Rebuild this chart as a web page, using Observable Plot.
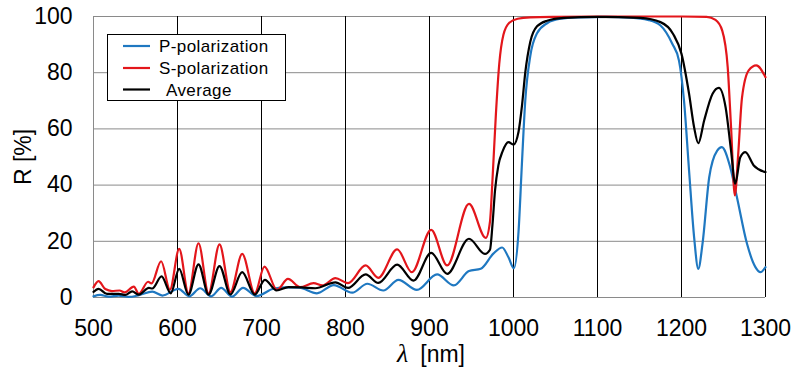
<!DOCTYPE html>
<html>
<head>
<meta charset="utf-8">
<script src="https://cdn.jsdelivr.net/npm/d3@7"></script>
<script src="https://cdn.jsdelivr.net/npm/@observablehq/plot@0.6"></script>
<style>
  html, body { margin: 0; padding: 0; background: white; }
</style>
</head>
<body>
<div id="chart"></div>
<script>
// ---- data ----
const seriesNames = ["P-polarization", "S-polarization", "Average"];
const seriesColors = ["#1f78c1", "#e3161b", "#000000"];

const lamP = [500, 508, 518, 530, 542, 554, 570, 582, 601, 614, 627, 640, 652, 665, 678, 694, 715, 730, 745, 766, 786, 808, 826, 845, 863, 885, 909, 929, 947, 961, 976, 986.5, 994, 1000.5, 1006, 1010, 1014, 1020, 1028, 1040, 1056, 1080, 1110, 1140, 1160, 1175, 1189, 1197, 1203, 1209, 1215, 1220, 1225, 1233, 1242.5, 1248, 1258, 1266, 1278, 1288, 1294, 1300];
const valP = [0.4, 0.9, 0.3, 0.7, 0.2, 0.8, 2.1, 0.7, 3.1, 0.4, 3.3, 0.4, 3.4, 0.3, 3.4, 0.5, 3.2, 3.6, 3.5, 1.5, 4.4, 1.7, 4.9, 2.5, 6.3, 2.7, 8.2, 4.3, 9.4, 10.2, 15.6, 17.8, 14.3, 10.4, 23.5, 47.5, 70, 86, 94, 97.6, 99.2, 99.7, 99.9, 99.6, 98.8, 96.8, 90.3, 84.3, 70, 45.2, 21.5, 10.2, 19.1, 42.8, 52.3, 53.5, 46.4, 35.7, 19.1, 10.8, 9.0, 10.8];

const lamS = [500, 506, 514, 522, 531, 537, 548, 554, 565, 569, 580.5, 591, 602, 613, 625, 637, 650, 663, 677, 692, 703.5, 718.5, 731.5, 746, 762, 772.5, 788, 803, 824, 839, 861.5, 879, 902, 921, 947, 967, 972, 975, 979, 983, 988, 995, 1005, 1020, 1050, 1100, 1200, 1230, 1240.5, 1248.5, 1255, 1259, 1263.5, 1267.5, 1272, 1280, 1289, 1300];
const valS = [3.6, 5.8, 3.0, 2.3, 2.5, 1.8, 3.9, 1.3, 5.6, 5.0, 12.9, 2.8, 17.3, 1.5, 19.3, 1.5, 18.9, 1.9, 15.5, 1.5, 11.0, 2.7, 6.6, 3.7, 5.1, 4.3, 6.9, 5.1, 11.4, 7.0, 17.1, 9.0, 24.1, 11.4, 33.3, 21.2, 27, 42, 65, 83, 93.5, 97.8, 99.2, 99.7, 99.9, 100, 100, 99.9, 98.8, 95, 82, 60.6, 36.3, 51, 71, 80.8, 82.6, 78.4];

const lamA = [500, 506, 516, 530, 538, 546, 554, 566, 570, 581, 592, 602, 613, 625, 637, 650, 663, 677, 692, 704, 718, 732, 748, 764, 788, 803, 824, 839, 861.5, 881, 902, 921, 947, 966, 972, 975, 978, 982, 987, 994, 1000, 1006, 1010, 1014, 1020, 1028, 1040, 1060, 1100, 1151, 1175, 1190, 1200, 1209, 1215, 1220, 1227, 1237, 1244.5, 1252.5, 1259, 1264, 1270, 1276, 1286, 1300];
const valA = [2.0, 3.1, 1.3, 1.3, 0.9, 2.2, 1.0, 3.4, 3.2, 7.5, 1.5, 10.2, 1.0, 11.8, 1.0, 11.2, 1.1, 9.0, 1.0, 6.3, 2.5, 3.7, 3.6, 3.3, 5.4, 3.4, 8.2, 5.2, 11.7, 6.0, 15.9, 8.4, 20.9, 15.5, 17, 26, 38, 47, 52, 55.3, 54.4, 59, 68, 80, 91, 96.5, 98.5, 99.5, 99.9, 99.5, 98, 93.8, 86.7, 72.5, 60.6, 54.9, 63, 72.5, 74.6, 67.7, 52.3, 40.5, 49.9, 51.7, 47, 44.6];

const xTicks = [500, 600, 700, 800, 900, 1000, 1100, 1200, 1300];
const yTicks = [0, 20, 40, 60, 80, 100];
const xGridBlack = [600, 700, 800, 900, 1000, 1100, 1200, 1300];
const yGridGray = [0, 20, 40, 60, 80, 100];
const xLabel = "[nm]";
const xLabelSymbol = "λ";
const yLabel = "R [%]";

// ---- build tables ----
const toRows = (lam, val, name) => lam.map((l, i) => ({lambda: l, R: val[i], series: name}));
const rowsP = toRows(lamP, valP, seriesNames[0]);
const rowsS = toRows(lamS, valS, seriesNames[1]);
const rowsA = toRows(lamA, valA, seriesNames[2]);

const chart = Plot.plot({
  width: 805,
  height: 386,
  marginLeft: 93,
  marginRight: 40,
  marginTop: 16,
  marginBottom: 89,
  style: {fontFamily: "Liberation Sans, Arial, sans-serif", fontSize: "23px", background: "white", color: "black"},
  x: {domain: [500, 1300]},
  y: {domain: [0, 100]},
  marks: [
    Plot.ruleY(yGridGray, {stroke: "#8a8a8a", strokeWidth: 1}),
    Plot.ruleX([500], {stroke: "#8a8a8a", strokeWidth: 1}),
    Plot.ruleX(xGridBlack, {stroke: "#000", strokeWidth: 1}),
    Plot.lineY(rowsP, {x: "lambda", y: "R", stroke: seriesColors[0], strokeWidth: 2.2, curve: "monotone-x"}),
    Plot.lineY(rowsS, {x: "lambda", y: "R", stroke: seriesColors[1], strokeWidth: 2.2, curve: "monotone-x"}),
    Plot.lineY(rowsA, {x: "lambda", y: "R", stroke: seriesColors[2], strokeWidth: 2.2, curve: "monotone-x"}),
    Plot.axisX({ticks: xTicks, tickSize: 0, tickPadding: 22, label: null, tickFormat: d => String(d), fontSize: 23}),
    Plot.axisY({ticks: yTicks, tickSize: 0, tickPadding: 21, label: null, tickFormat: d => String(d), fontSize: 23})
  ]
});

const svg = d3.select(chart);

// axis titles
const xt = svg.append("text")
  .attr("x", 431).attr("y", 362)
  .attr("text-anchor", "middle")
  .attr("font-family", "Liberation Sans, Arial, sans-serif")
  .attr("font-size", 23).attr("fill", "black");
xt.append("tspan").attr("font-family", "Liberation Serif, serif").attr("font-style", "italic").attr("font-size", 26).text(xLabelSymbol);
xt.append("tspan").attr("dx", 12).text(xLabel);

svg.append("text")
  .attr("transform", "translate(31,157) rotate(-90)")
  .attr("text-anchor", "middle")
  .attr("font-family", "Liberation Sans, Arial, sans-serif")
  .attr("font-size", 23).attr("fill", "black")
  .text(yLabel);

// legend
const lg = svg.append("g").attr("text-anchor", "start");
lg.append("rect").attr("x", 107.5).attr("y", 34.5).attr("width", 178).attr("height", 66)
  .attr("fill", "white").attr("stroke", "black").attr("stroke-width", 1);
const rowsY = [46, 68, 89.5];
const textX = [159, 159, 166];
seriesNames.forEach((name, i) => {
  lg.append("line").attr("x1", 123).attr("x2", 150).attr("y1", rowsY[i]).attr("y2", rowsY[i])
    .attr("stroke", seriesColors[i]).attr("stroke-width", 2.2);
  lg.append("text").attr("x", textX[i]).attr("y", rowsY[i] + 6)
    .attr("text-anchor", "start")
    .attr("font-family", "Liberation Sans, Arial, sans-serif")
    .attr("font-size", 17).attr("letter-spacing", "0.4px").attr("fill", "black")
    .text(name);
});

document.getElementById("chart").appendChild(chart);
</script>
</body>
</html>
